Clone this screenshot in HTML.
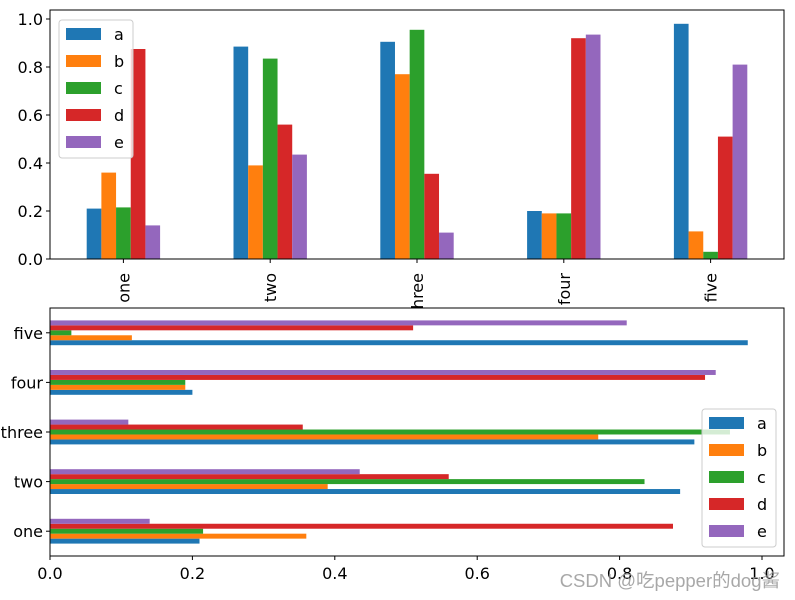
<!DOCTYPE html>
<html><head><meta charset="utf-8"><style>
body{margin:0;background:#fff;}
svg{display:block;font-family:"DejaVu Sans","Liberation Sans","Noto Sans CJK SC",sans-serif;}
</style></head><body>
<svg id="c" width="795" height="600" viewBox="0 0 795 600"></svg>
<script>
const categories=["one","two","three","four","five"];
const seriesNames=["a","b","c","d","e"];
const seriesA=[0.21,0.885,0.905,0.20,0.98];
const seriesB=[0.36,0.39,0.77,0.19,0.115];
const seriesC=[0.215,0.835,0.955,0.19,0.03];
const seriesD=[0.875,0.56,0.355,0.92,0.51];
const seriesE=[0.14,0.435,0.11,0.935,0.81];
const tickLabels=["0.0","0.2","0.4","0.6","0.8","1.0"];
const tickValues=[0,0.2,0.4,0.6,0.8,1.0];
const series=[seriesA,seriesB,seriesC,seriesD,seriesE];
const colors=["#1f77b4","#ff7f0e","#2ca02c","#d62728","#9467bd"];
const FS=16;
const svg=document.getElementById('c');
const NS="http://www.w3.org/2000/svg";
function mk(t,a,p){const e=document.createElementNS(NS,t);for(const k in a)e.setAttribute(k,a[k]);(p||svg).appendChild(e);return e;}
const T={l:50,r:784,t:10,b:259};
const ty=v=>T.b-v*240;
const catW=(T.r-T.l)/categories.length;
const tx=i=>T.l+catW*(i+0.5);
const g1=mk('g',{});


const bw=catW*0.5/5;
categories.forEach((c,i)=>{series.forEach((s,j)=>{
 const x=tx(i)-catW*0.25+j*bw;
 const r=mk('rect',{x:x,y:ty(s[i]),width:bw,height:ty(0)-ty(s[i]),fill:colors[j]},g1);
 
 
});
 mk('line',{x1:tx(i),x2:tx(i),y1:T.b,y2:T.b+4,stroke:'#000'},g1);
 const t=mk('text',{x:0,y:0,transform:`translate(${tx(i)+6},${T.b+14}) rotate(-90)`,'text-anchor':'end','font-size':FS},g1);
 t.textContent=c;
 
 
});
tickValues.forEach((v,k)=>{
 mk('line',{x1:T.l-4,x2:T.l,y1:ty(v),y2:ty(v),stroke:'#000'},g1);
 const t=mk('text',{x:T.l-7,y:ty(v)+6,'text-anchor':'end','font-size':FS},g1);
 t.textContent=tickLabels[k];
 
 
});
mk('rect',{x:T.l,y:T.t,width:T.r-T.l,height:T.b-T.t,fill:'none',stroke:'#000','stroke-width':1},g1);
function legend(x,y,name){
 const g=mk('g',{});
 
 
 mk('rect',{x:x,y:y,width:74,height:138,rx:3,fill:'#fff','fill-opacity':0.8,stroke:'#ccc'},g);
 seriesNames.forEach((n,j)=>{
  const r=mk('rect',{x:x+7,y:y+8+j*27,width:35,height:12,fill:colors[j]},g);
  
  
  const t=mk('text',{x:x+55,y:y+20+j*27,'font-size':FS},g);
  t.textContent=n;
  
  
 });
}
legend(59,20,'top-legend');
const B={l:50,r:784,t:308,b:556};
const bx=v=>B.l+v*712;
const catH=(B.b-B.t)/categories.length;
const by=i=>B.b-catH*(i+0.5);
const g2=mk('g',{});


mk('rect',{x:0,y:B.t,width:795,height:292,fill:'#fff'},g2);
const bh=catH*0.5/5;
categories.forEach((c,i)=>{series.forEach((s,j)=>{
 const y=by(i)+catH*0.25-(j+1)*bh;
 const r=mk('rect',{x:bx(0),y:y,width:bx(s[i])-bx(0),height:bh,fill:colors[j]},g2);
 
 
});
 mk('line',{x1:B.l-4,x2:B.l,y1:by(i),y2:by(i),stroke:'#000'},g2);
 const t=mk('text',{x:B.l-7,y:by(i)+6,'text-anchor':'end','font-size':FS},g2);
 t.textContent=c;
 
 
});
tickValues.forEach((v,k)=>{
 mk('line',{x1:bx(v),x2:bx(v),y1:B.b,y2:B.b+4,stroke:'#000'},g2);
 const t=mk('text',{x:bx(v),y:B.b+23,'text-anchor':'middle','font-size':FS},g2);
 t.textContent=tickLabels[k];
 
 
});
mk('rect',{x:B.l,y:B.t,width:B.r-B.l,height:B.b-B.t,fill:'none',stroke:'#000'},g2);
legend(702,409,'bottom-legend');
const w=mk('text',{x:780,y:587,'text-anchor':'end','font-size':18.5,fill:'#999','fill-opacity':0.85,'font-family':'"Liberation Sans","Noto Sans CJK SC",sans-serif'});
w.textContent='CSDN @吃pepper的dog酱';


</script>
</body></html>
